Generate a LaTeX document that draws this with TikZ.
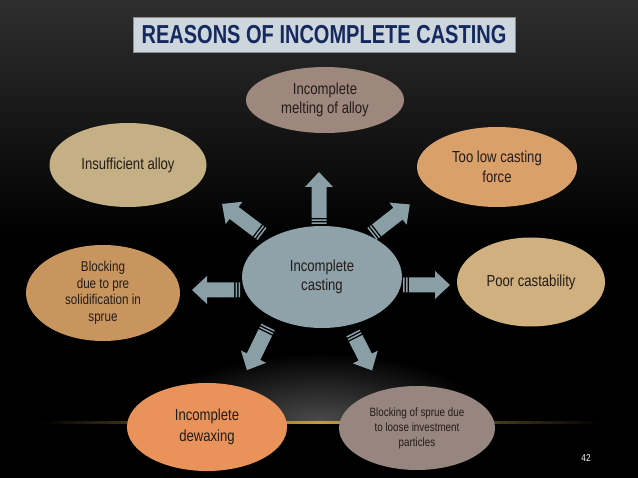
\documentclass[tikz,border=0pt]{standalone}
\usepackage{fontspec}
\newfontfamily\narrowfont[FakeStretch=0.82]{Liberation Sans}
\newfontfamily\titlefont[FakeStretch=0.77]{Liberation Sans}
\usetikzlibrary{shapes.geometric}
\definecolor{titlebg}{HTML}{CDD5DD}
\definecolor{titleink}{HTML}{15295E}
\definecolor{arrowcol}{HTML}{8A9EA6}
\definecolor{inkcol}{HTML}{231C18}
\definecolor{goldline}{HTML}{C89A48}
\tikzset{
  reason/.style={ellipse, inner sep=0pt, align=center, text=inkcol,
    font=\narrowfont\fontsize{16}{19.5}\selectfont},
  pics/fatarrow/.style={code={
    \fill[arrowcol] (6,-7.5) -- ({#1-15},-7.5) -- ({#1-15},-14) -- (#1,0)
      -- ({#1-15},14) -- ({#1-15},7.5) -- (6,7.5) -- cycle;
    \fill[arrowcol] (0,-7.5) rectangle (1.5,7.5) (3,-7.5) rectangle (4.5,7.5);
  }}
}
\begin{document}
\begin{tikzpicture}[x=1pt, y=-1pt]
  \useasboundingbox (0,0) rectangle (638,478);
  % background
  \shade[top color=black!82, bottom color=black, middle color=black] (0,0) rectangle (638,478);
  \shade[inner color=black!70, outer color=black] (320,423) ellipse (170 and 70);
  \fill[black] (0,423) rectangle (638,478);
  \shade[left color=black, right color=goldline] (40,422) rectangle (320,424);
  \shade[left color=goldline, right color=black] (320,422) rectangle (600,424);
  % title
  \node[draw=black!45, fill=titlebg, minimum width=382pt, minimum height=35pt,
    text=titleink, font=\titlefont\bfseries\fontsize{26}{30}\selectfont] (title) at (324,34.5)
    {REASONS OF INCOMPLETE CASTING};
  % ellipses
  \node[reason, fill={rgb,255:red,143;green,161;blue,169}, minimum width=160pt,
    minimum height=102pt] (cast) at (322,277) {Incomplete\\casting};
  \node[reason, fill={rgb,255:red,158;green,135;blue,125}, minimum width=158pt,
    minimum height=66pt] (melt) at (325,100) {Incomplete\\melting of alloy};
  \node[reason, fill={rgb,255:red,196;green,176;blue,132}, minimum width=157pt,
    minimum height=84pt] (alloy) at (128,165) {Insufficient alloy};
  \node[reason, fill={rgb,255:red,217;green,160;blue,106}, minimum width=160pt,
    minimum height=80pt] (force) at (497,167) {Too low casting\\force};
  \node[reason, fill={rgb,255:red,207;green,176;blue,126}, minimum width=148pt,
    minimum height=89pt] (poor) at (531,282) {Poor castability};
  \node[reason, fill={rgb,255:red,200;green,149;blue,95}, minimum width=154pt,
    minimum height=96pt, font=\narrowfont\fontsize{14.2}{16.5}\selectfont] (presol) at (103,293)
    {Blocking\\ due to pre\\solidification in\\sprue};
  \node[reason, fill={rgb,255:red,233;green,147;blue,90}, minimum width=160pt,
    minimum height=88pt, font=\narrowfont\fontsize{16}{21}\selectfont] (dewax) at (207,427)
    {Incomplete\\dewaxing};
  \node[reason, fill={rgb,255:red,151;green,133;blue,128}, minimum width=156pt,
    minimum height=84pt, font=\narrowfont\fontsize{12}{15}\selectfont] (loose) at (417,428)
    {Blocking of sprue due\\to loose investment\\particles};
  % arrows
  \pic[rotate=90]  at (319,224) {fatarrow=52};
  \pic[rotate=143] at (262,234) {fatarrow=50};
  \pic[rotate=38]  at (372,234) {fatarrow=48};
  \pic[rotate=180] at (240,290) {fatarrow=48};
  \pic[rotate=0]   at (403,285) {fatarrow=47};
  \pic[rotate=244] at (268,327) {fatarrow=48};
  \pic[rotate=-63] at (353,333) {fatarrow=42};
  % page number
  \node[text=white, font=\narrowfont\fontsize{10}{12}\selectfont] (pnum) at (586,458) {42};
\end{tikzpicture}
\end{document}
